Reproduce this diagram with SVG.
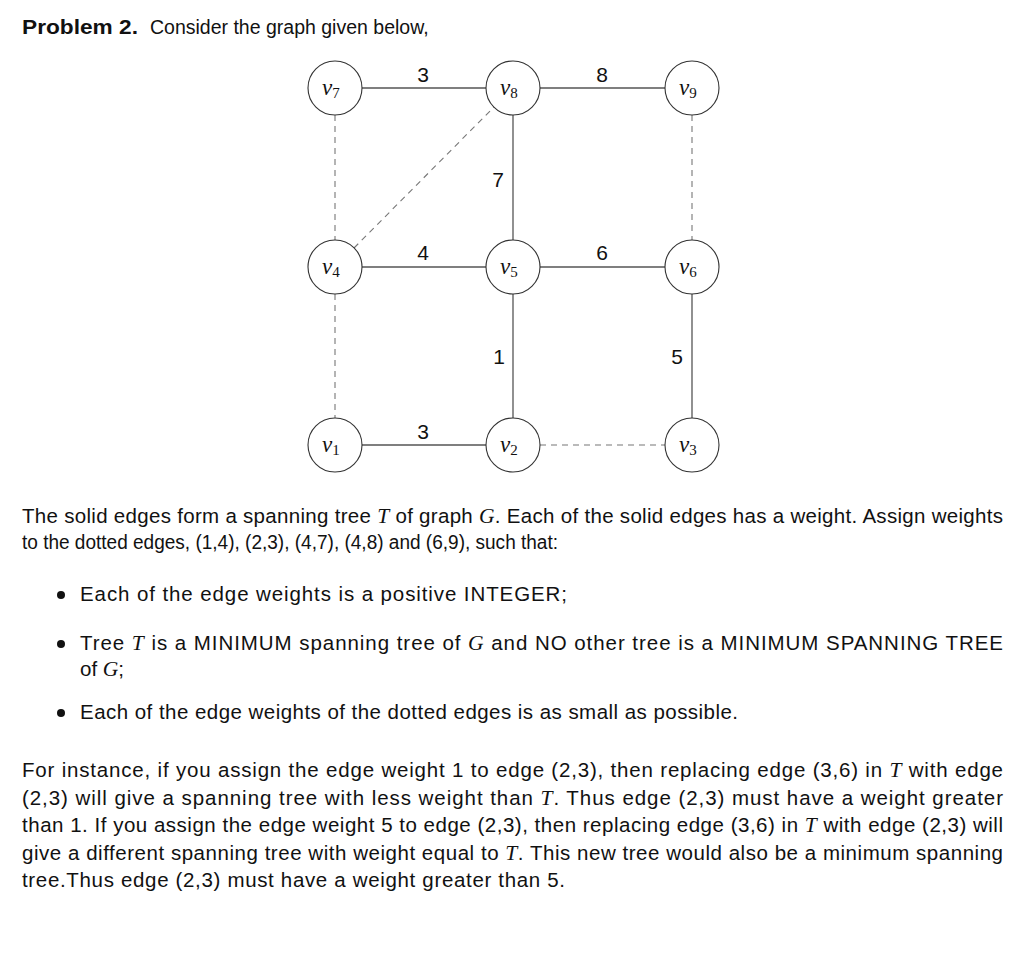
<svg xmlns="http://www.w3.org/2000/svg" width="1024" height="972" viewBox="0 0 1024 972">
<style>
.t{font-family:"Liberation Sans",Arial,sans-serif;font-size:20.5px;fill:#111}
.m{font-family:"Liberation Serif","Times New Roman",serif;font-style:italic;font-size:21.5px}
.b{font-weight:bold}
.nd{fill:#fff;stroke:#333;stroke-width:1.1}
.nl{font-family:"Liberation Serif","Times New Roman",serif;font-style:italic;font-size:23px;fill:#111}
.sub{font-style:normal;font-size:15px}
.w{font-family:"Liberation Sans",Arial,sans-serif;font-size:21px;fill:#111;text-anchor:middle}
.e{stroke:#555;stroke-width:1.3;fill:none}
.d{stroke:#777;stroke-width:1.1;stroke-dasharray:6,5;fill:none}
</style>
<rect width="1024" height="972" fill="#fff"/>
<text class="t b" x="22" y="34" textLength="116" lengthAdjust="spacingAndGlyphs">Problem 2.</text>
<text class="t" x="150" y="34" style="font-size:19.5px">Consider the graph given below,</text>
<g id="connectors">
<line class="e" x1="362" y1="88" x2="486" y2="88"/>
<line class="e" x1="540" y1="88" x2="665" y2="88"/>
<line class="e" x1="362" y1="267" x2="486" y2="267"/>
<line class="e" x1="540" y1="267" x2="665" y2="267"/>
<line class="e" x1="362" y1="445" x2="486" y2="445"/>
<line class="e" x1="513" y1="115" x2="513" y2="240"/>
<line class="e" x1="513" y1="294" x2="513" y2="418"/>
<line class="e" x1="692" y1="294" x2="692" y2="418"/>
<line class="d" x1="335" y1="115" x2="335" y2="240"/>
<line class="d" x1="335" y1="294" x2="335" y2="418"/>
<line class="d" x1="692" y1="115" x2="692" y2="240"/>
<line class="d" x1="540" y1="445" x2="665" y2="445"/>
<line class="d" x1="354" y1="248" x2="494" y2="107"/>
<text class="w" x="423" y="82">3</text>
<text class="w" x="602" y="82">8</text>
<text class="w" x="498" y="187">7</text>
<text class="w" x="423" y="260">4</text>
<text class="w" x="602" y="260">6</text>
<text class="w" x="499" y="364">1</text>
<text class="w" x="677" y="364">5</text>
<text class="w" x="423" y="439">3</text>
</g>
<g id="v7"><circle class="nd" cx="335" cy="88" r="27"/><text class="nl" x="322" y="95">v<tspan class="sub" dy="3">7</tspan></text></g>
<g id="v8"><circle class="nd" cx="513" cy="88" r="27"/><text class="nl" x="500" y="95">v<tspan class="sub" dy="3">8</tspan></text></g>
<g id="v9"><circle class="nd" cx="692" cy="88" r="27"/><text class="nl" x="679" y="95">v<tspan class="sub" dy="3">9</tspan></text></g>
<g id="v4"><circle class="nd" cx="335" cy="267" r="27"/><text class="nl" x="322" y="274">v<tspan class="sub" dy="3">4</tspan></text></g>
<g id="v5"><circle class="nd" cx="513" cy="267" r="27"/><text class="nl" x="500" y="274">v<tspan class="sub" dy="3">5</tspan></text></g>
<g id="v6"><circle class="nd" cx="692" cy="267" r="27"/><text class="nl" x="679" y="274">v<tspan class="sub" dy="3">6</tspan></text></g>
<g id="v1"><circle class="nd" cx="335" cy="445" r="27"/><text class="nl" x="322" y="452">v<tspan class="sub" dy="3">1</tspan></text></g>
<g id="v2"><circle class="nd" cx="513" cy="445" r="27"/><text class="nl" x="500" y="452">v<tspan class="sub" dy="3">2</tspan></text></g>
<g id="v3"><circle class="nd" cx="692" cy="445" r="27"/><text class="nl" x="679" y="452">v<tspan class="sub" dy="3">3</tspan></text></g>
<text class="t" x="22" y="523" textLength="981" lengthAdjust="spacing">The solid edges form a spanning tree <tspan class="m">T</tspan> of graph <tspan class="m">G</tspan>. Each of the solid edges has a weight. Assign weights</text>
<text class="t" x="22" y="549" style="font-size:19.5px" textLength="536" lengthAdjust="spacingAndGlyphs">to the dotted edges, (1,4), (2,3), (4,7), (4,8) and (6,9), such that:</text>
<circle cx="61" cy="595" r="4" fill="#111"/>
<text class="t" x="80" y="601" textLength="487" lengthAdjust="spacing">Each of the edge weights is a positive INTEGER;</text>
<circle cx="61" cy="644" r="4" fill="#111"/>
<text class="t" x="80" y="650" textLength="923" lengthAdjust="spacing">Tree <tspan class="m">T</tspan> is a MINIMUM spanning tree of <tspan class="m">G</tspan> and NO other tree is a MINIMUM SPANNING TREE</text>
<text class="t" x="80" y="676">of <tspan class="m">G</tspan>;</text>
<circle cx="61" cy="713" r="4" fill="#111"/>
<text class="t" x="80" y="719" textLength="658" lengthAdjust="spacing">Each of the edge weights of the dotted edges is as small as possible.</text>
<text class="t" x="22" y="777" textLength="981" lengthAdjust="spacing">For instance, if you assign the edge weight 1 to edge (2,3), then replacing edge (3,6) in <tspan class="m">T</tspan> with edge</text>
<text class="t" x="22" y="805" textLength="981" lengthAdjust="spacing">(2,3) will give a spanning tree with less weight than <tspan class="m">T</tspan>. Thus edge (2,3) must have a weight greater</text>
<text class="t" x="22" y="832" textLength="981" lengthAdjust="spacing">than 1. If you assign the edge weight 5 to edge (2,3), then replacing edge (3,6) in <tspan class="m">T</tspan> with edge (2,3) will</text>
<text class="t" x="22" y="860" textLength="981" lengthAdjust="spacing">give a different spanning tree with weight equal to <tspan class="m">T</tspan>. This new tree would also be a minimum spanning</text>
<text class="t" x="22" y="887" textLength="543" lengthAdjust="spacing">tree.Thus edge (2,3) must have a weight greater than 5.</text>
</svg>
